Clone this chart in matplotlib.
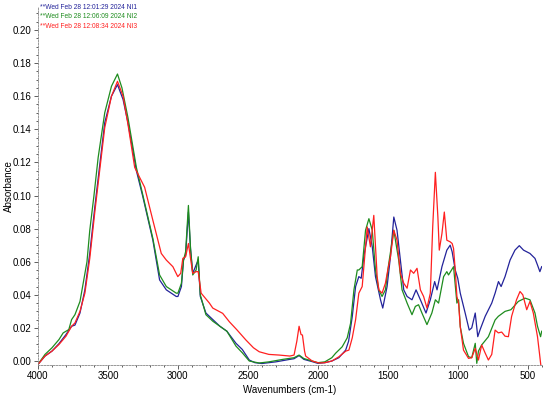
import matplotlib
matplotlib.use("Agg")
import matplotlib.pyplot as plt
from matplotlib.ticker import MultipleLocator, FormatStrFormatter

plt.rcParams['font.family'] = ['Liberation Sans', 'DejaVu Sans']

legend_labels = [
    "**Wed Feb 28 12:01:29 2024 NI1",
    "**Wed Feb 28 12:06:09 2024 NI2",
    "**Wed Feb 28 12:08:34 2024 NI3",
]
colors = ["#23239a", "#1e8c1e", "#ff2020"]

wn_blue = [4000, 3950, 3900, 3850, 3800, 3760, 3736, 3700, 3665, 3630, 3594, 3558, 3523, 3475, 3432,
           3392, 3357, 3297, 3250, 3179, 3131, 3083, 3012, 3000, 2975, 2960, 2945, 2925, 2910, 2894,
           2870, 2855, 2840, 2800, 2750, 2700, 2650, 2585, 2540, 2490, 2450, 2400, 2300, 2200, 2170,
           2134, 2100, 2039, 2000, 1950, 1900, 1850, 1801, 1780, 1754, 1742, 1730, 1707, 1690, 1670,
           1635, 1611, 1588, 1552, 1536, 1505, 1481, 1457, 1434, 1410, 1386, 1362, 1327, 1298, 1267,
           1227, 1196, 1165, 1148, 1113, 1078, 1054, 1040, 1018, 1000, 982, 947, 918, 900, 875,
           857, 840, 804, 757, 733, 709, 690, 662, 626, 591, 560, 530, 507, 484, 448,
           430, 413, 400]
abs_blue = [-0.002, 0.003, 0.006, 0.0105, 0.016, 0.021, 0.0217, 0.029, 0.043, 0.065, 0.093, 0.119, 0.144, 0.160, 0.167,
            0.158, 0.144, 0.115, 0.099, 0.073, 0.049, 0.043, 0.039, 0.039, 0.045, 0.061, 0.064, 0.090, 0.068, 0.053,
            0.058, 0.061, 0.039, 0.029, 0.025, 0.021, 0.018, 0.0107, 0.007, 0.0006, -0.001, -0.0015, -0.0005, 0.001, 0.0014,
            0.0033, 0.001, -0.0004, -0.0014, -0.001, 0.0, 0.002, 0.0066, 0.012, 0.0268, 0.036, 0.045, 0.051, 0.050, 0.064,
            0.080, 0.069, 0.051, 0.037, 0.032, 0.045, 0.063, 0.087, 0.079, 0.061, 0.043, 0.039, 0.037, 0.043, 0.037,
            0.029, 0.037, 0.048, 0.043, 0.057, 0.067, 0.070, 0.066, 0.055, 0.050, 0.041, 0.029, 0.0187, 0.020, 0.029,
            0.0147, 0.019, 0.027, 0.035, 0.041, 0.048, 0.045, 0.051, 0.061, 0.067, 0.0697, 0.067, 0.066, 0.065, 0.062,
            0.058, 0.054, 0.057]

wn_green = [4000, 3950, 3900, 3850, 3820, 3800, 3780, 3760, 3736, 3700, 3677, 3650, 3630, 3600, 3570,
            3523, 3475, 3432, 3400, 3357, 3297, 3250, 3179, 3131, 3083, 3012, 3000, 2975, 2960, 2945,
            2925, 2910, 2894, 2870, 2855, 2840, 2800, 2750, 2700, 2650, 2585, 2540, 2490, 2420, 2350,
            2250, 2170, 2134, 2100, 2040, 2000, 1950, 1900, 1873, 1826, 1790, 1766, 1742, 1718, 1707,
            1683, 1659, 1635, 1611, 1588, 1564, 1541, 1517, 1493, 1457, 1422, 1398, 1362, 1327, 1303,
            1280, 1256, 1220, 1185, 1160, 1137, 1101, 1078, 1066, 1030, 1006, 994, 982, 959, 923,
            900, 875, 864, 852, 829, 781, 733, 710, 662, 620, 567, 519, 484, 448, 430,
            408, 400]
abs_green = [-0.002, 0.004, 0.008, 0.013, 0.017, 0.018, 0.019, 0.025, 0.028, 0.036, 0.047, 0.060, 0.079, 0.100, 0.123,
             0.150, 0.166, 0.1734, 0.165, 0.147, 0.117, 0.100, 0.074, 0.052, 0.045, 0.041, 0.041, 0.047, 0.061, 0.066,
             0.094, 0.068, 0.052, 0.055, 0.063, 0.040, 0.028, 0.024, 0.021, 0.018, 0.009, 0.005, 0.0, -0.0012, -0.0005,
             0.001, 0.002, 0.0036, 0.0015, 0.0, -0.001, -0.0005, 0.002, 0.0047, 0.0086, 0.014, 0.0228, 0.043, 0.055, 0.055,
             0.057, 0.079, 0.086, 0.079, 0.055, 0.043, 0.039, 0.043, 0.059, 0.079, 0.061, 0.043, 0.035, 0.028, 0.033,
             0.034, 0.029, 0.022, 0.029, 0.037, 0.035, 0.051, 0.054, 0.052, 0.057, 0.035, 0.037, 0.0207, 0.0107, 0.0026,
             0.002, 0.0107, -0.0014, 0.006, 0.0097, 0.0147, 0.0248, 0.027, 0.030, 0.031, 0.036, 0.038, 0.037, 0.029, 0.021,
             0.0147, 0.018]

wn_red = [4000, 3950, 3900, 3850, 3800, 3760, 3736, 3700, 3665, 3630, 3594, 3558, 3523, 3475, 3432,
          3392, 3357, 3309, 3274, 3238, 3179, 3119, 3083, 3036, 3001, 2980, 2965, 2945, 2925, 2910,
          2894, 2870, 2855, 2834, 2775, 2751, 2680, 2632, 2580, 2514, 2460, 2419, 2350, 2276, 2200,
          2170, 2150, 2134, 2120, 2110, 2095, 2087, 2040, 1991, 1950, 1900, 1849, 1800, 1778, 1754,
          1730, 1707, 1683, 1647, 1624, 1600, 1576, 1564, 1541, 1517, 1500, 1481, 1457, 1434, 1410,
          1386, 1362, 1338, 1315, 1291, 1267, 1244, 1220, 1196, 1179, 1160, 1142, 1132, 1113, 1096,
          1078, 1054, 1040, 1030, 1018, 1006, 994, 982, 959, 923, 900, 875, 852, 829, 805,
          781, 757, 733, 710, 686, 662, 638, 615, 580, 555, 535, 507, 484, 460, 430,
          416, 405, 400]
abs_red = [-0.002, 0.003, 0.006, 0.010, 0.015, 0.021, 0.023, 0.030, 0.041, 0.062, 0.090, 0.116, 0.141, 0.160, 0.169,
           0.160, 0.143, 0.117, 0.111, 0.105, 0.085, 0.065, 0.061, 0.057, 0.051, 0.053, 0.062, 0.063, 0.071, 0.062,
           0.053, 0.054, 0.054, 0.041, 0.035, 0.032, 0.0288, 0.0237, 0.019, 0.0127, 0.008, 0.0056, 0.004, 0.0036, 0.003,
           0.0036, 0.012, 0.021, 0.016, 0.0157, 0.006, 0.003, 0.0, -0.0012, -0.001, 0.0, 0.0026, 0.006, 0.0066, 0.014,
           0.025, 0.041, 0.045, 0.081, 0.069, 0.088, 0.051, 0.043, 0.041, 0.047, 0.055, 0.063, 0.079, 0.073, 0.053,
           0.047, 0.044, 0.055, 0.053, 0.056, 0.043, 0.039, 0.032, 0.041, 0.081, 0.114, 0.087, 0.067, 0.077, 0.090,
           0.073, 0.072, 0.071, 0.068, 0.055, 0.039, 0.035, 0.0207, 0.0066, 0.0016, 0.002, 0.0077, 0.0006, 0.0097, 0.005,
           0.0006, 0.004, 0.0187, 0.017, 0.0175, 0.015, 0.0147, 0.027, 0.037, 0.042, 0.040, 0.031, 0.036, 0.029, 0.0147,
           0.0047, -0.0034, -0.004]

series = [(wn_blue, abs_blue), (wn_green, abs_green), (wn_red, abs_red)]

fig = plt.figure(figsize=(5.5, 3.95), dpi=100)
ax = fig.add_axes([0.0691, 0.0747, 0.9158, 0.9076])

for (wn, ab), c in zip(series, colors):
    ax.plot(wn, ab, color=c, lw=0.9)

ax.set_xlim(4000, 400)
ax.set_ylim(-0.0027, 0.2139)

ax.xaxis.set_major_locator(MultipleLocator(500))
ax.xaxis.set_minor_locator(MultipleLocator(100))
ax.yaxis.set_major_locator(MultipleLocator(0.02))
ax.yaxis.set_minor_locator(MultipleLocator(0.005))
ax.yaxis.set_major_formatter(FormatStrFormatter('%.2f'))

for s in ['top', 'right']:
    ax.spines[s].set_visible(False)
for s in ['left', 'bottom']:
    ax.spines[s].set_color('#888888')
    ax.spines[s].set_linewidth(0.6)
    ax.spines[s].set_linestyle((0, (2, 1.5)))

ax.tick_params(axis='both', which='major', direction='out', length=3, width=0.6,
               color='#444444', labelsize=7, pad=1.5)
ax.tick_params(axis='x', which='major', pad=1)
ax.tick_params(axis='both', which='minor', direction='out', length=1.5, width=0.6,
               color='#444444')

ax.set_xlabel('Wavenumbers (cm-1)', fontsize=7)
ax.set_ylabel('Absorbance', fontsize=7)
# place axis labels like the reference
ax.xaxis.set_label_coords(0.5, -19.5 / 358.5, transform=ax.transAxes)
ax.yaxis.set_label_coords(-24.0 / 503.7, 0.5, transform=ax.transAxes)

ypos = [7.3, 16.7, 27.0]
for lab, c, yp in zip(legend_labels, colors, ypos):
    fig.text(39.5 / 550, 1 - yp / 395, lab, color=c, fontsize=4.8, va='center', ha='left')

fig.savefig('out.png', dpi=100)
